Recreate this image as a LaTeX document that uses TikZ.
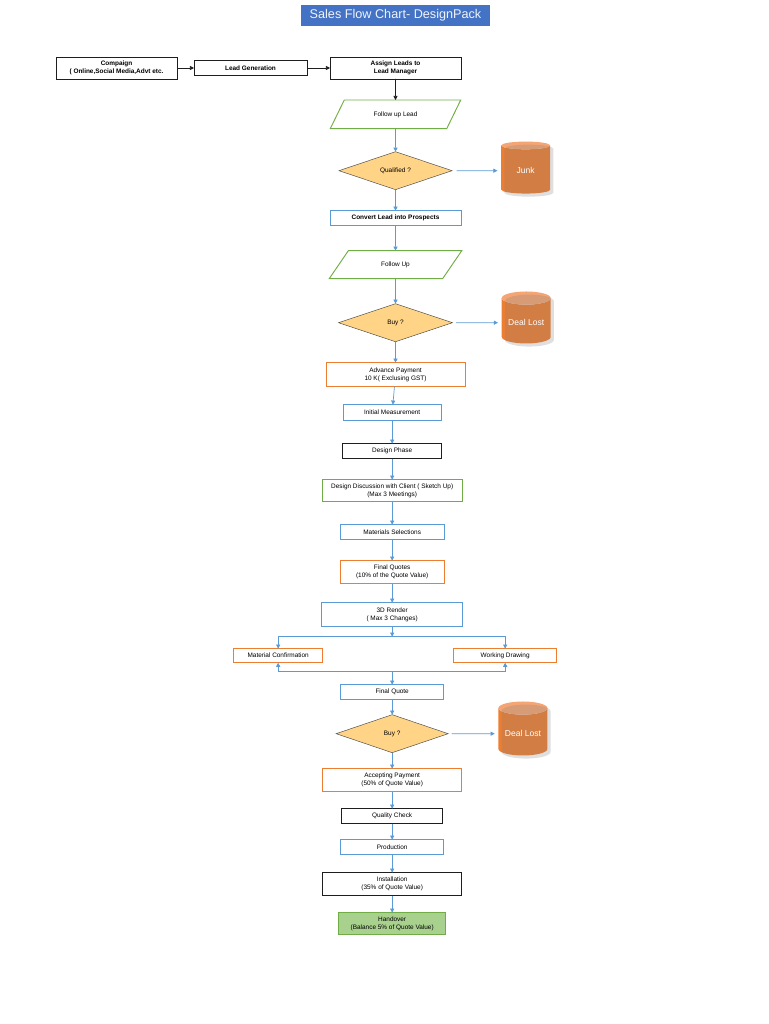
\documentclass[tikz,border=0pt]{standalone}
\usepackage{fontspec}
\setmainfont{Liberation Sans}
\usepackage{tikz}
\usetikzlibrary{shapes.geometric, arrows.meta, positioning, shadows}
\definecolor{charcoal}{RGB}{30, 30, 30}
\definecolor{flowblue}{RGB}{91, 155, 213}
\definecolor{flowgreen}{RGB}{112, 173, 71}
\definecolor{floworange}{RGB}{237, 125, 49}
\definecolor{orangetop}{RGB}{245, 165, 115}
\definecolor{diamondfill}{RGB}{255, 212, 135}
\definecolor{handoverfill}{RGB}{169, 209, 142}
\definecolor{titleblue}{RGB}{68, 114, 196}

\begin{document}
\begin{tikzpicture}[
            box/.style={draw=flowblue, thick, outer sep=0pt, minimum width=3.1cm, minimum height=0.45cm, inner sep=1pt, align=center, font=\fontsize{5.5}{7}\selectfont},
            boldbox/.style={box, draw=charcoal, font=\fontsize{5.5}{7}\selectfont\bfseries},
            lean/.style={trapezium, trapezium left angle=53, trapezium right angle=127, trapezium stretches=true, draw=flowgreen, thick, outer sep=0pt, minimum width=3.93cm, minimum height=0.86cm, inner sep=1pt, font=\fontsize{5.5}{7}\selectfont},
            decision/.style={diamond, draw=charcoal!80, fill=diamondfill, thin, outer sep=0pt, minimum width=3.39cm, minimum height=1.14cm, inner sep=0pt, font=\fontsize{5.5}{7}\selectfont},
            drum/.style={cylinder, shape border rotate=90, aspect=0.3, cylinder uses custom fill, cylinder body fill=floworange, cylinder end fill=orangetop, minimum width=1.47cm, minimum height=1.56cm, text=white, drop shadow={opacity=0.25}, font=\fontsize{7.3}{8}\selectfont},
            heading/.style={fill=titleblue, text=white!92!titleblue, minimum width=5.67cm, minimum height=0.63cm, font=\fontsize{10.8}{12}\selectfont},
            arrow/.style={-{Triangle[length=3.5pt, width=3.5pt]}, line width=0.6pt, flowblue},
            blackarrow/.style={-{Triangle[length=3.5pt, width=3.5pt]}, line width=0.6pt, charcoal}
        ]
            \useasboundingbox (-3.495,2.04) rectangle (19.545,-28.68);

            % top row
            \node[boldbox, minimum width=3.63cm, minimum height=0.66cm] (campaign) {Compaign\\( Online,Social Media,Advt etc.};
            \node[boldbox, minimum width=3.39cm, right=0.51cm of campaign] (leadgen) {Lead Generation};
            \node[boldbox, minimum width=3.93cm, minimum height=0.66cm, right=0.69cm of leadgen] (assign) {Assign Leads to\\Lead Manager};
            \node[heading, above=0.93cm of assign] (title) {Sales Flow Chart- DesignPack};

            % main column
            \node[lean, below=0.63cm of assign] (followlead) {Follow up Lead};
            \node[decision, below=0.69cm of followlead] (qualified) {Qualified ?};
            \node[drum, right=1.47cm of qualified] (junk) {Junk};
            \node[box, minimum width=3.93cm, font=\fontsize{5.5}{7}\selectfont\bfseries, below=0.63cm of qualified] (convert) {Convert Lead into Prospects};
            \node[lean, minimum width=3.99cm, minimum height=0.84cm, below=0.75cm of convert] (followup) {Follow Up};
            \node[decision, minimum width=3.42cm, below=0.75cm of followup] (buy) {Buy ?};
            \node[drum, right=1.47cm of buy] (lost) {Deal Lost};
            \node[box, draw=floworange, minimum width=4.17cm, minimum height=0.72cm, below=0.63cm of buy] (advance) {Advance Payment\\10 K( Exclusing GST)};
            \node[box, minimum width=2.94cm, minimum height=0.48cm, below=0.54cm of advance, xshift=-0.1cm] (measure) {Initial Measurement};
            \node[box, draw=charcoal, minimum width=2.97cm, below=0.69cm of measure] (design) {Design Phase};
            \node[box, draw=flowgreen, minimum width=4.2cm, minimum height=0.66cm, below=0.63cm of design] (discussion) {Design Discussion with Client ( Sketch Up)\\(Max 3 Meetings)};
            \node[box, minimum width=3.12cm, below=0.69cm of discussion] (materials) {Materials Selections};
            \node[box, draw=floworange, minimum width=3.12cm, minimum height=0.69cm, below=0.63cm of materials] (quotes) {Final Quotes\\(10\% of the Quote Value)};
            \node[box, minimum width=4.23cm, minimum height=0.72cm, below=0.57cm of quotes] (render) {3D Render\\( Max 3 Changes)};

            % split and merge
            \coordinate[below=0.3cm of render] (split);
            \node[box, draw=floworange, minimum width=2.67cm, minimum height=0.42cm, below=0.36cm of split, xshift=-3.42cm] (matconf) {Material Confirmation};
            \node[box, draw=floworange, minimum width=3.09cm, minimum height=0.42cm, below=0.36cm of split, xshift=3.39cm] (drawing) {Working Drawing};
            \coordinate (merge) at ([yshift=-1.05cm]split);

            \node[box, minimum width=3.09cm, below=0.39cm of merge] (finalquote) {Final Quote};
            \node[decision, minimum width=3.36cm, below=0.45cm of finalquote] (buyagain) {Buy ?};
            \node[drum, minimum height=1.62cm, right=1.5cm of buyagain] (lostagain) {Deal Lost};
            \node[box, draw=floworange, minimum width=4.17cm, minimum height=0.69cm, below=0.48cm of buyagain] (accepting) {Accepting Payment\\(50\% of Quote Value)};
            \node[box, draw=charcoal, minimum width=3.03cm, below=0.51cm of accepting] (quality) {Quality Check};
            \node[box, minimum width=3.09cm, below=0.48cm of quality] (production) {Production};
            \node[box, draw=charcoal, minimum width=4.17cm, minimum height=0.69cm, below=0.54cm of production] (install) {Installation\\(35\% of Quote Value)};
            \node[box, draw=flowgreen, fill=handoverfill, minimum width=3.21cm, minimum height=0.66cm, below=0.51cm of install] (handover) {Handover\\(Balance 5\% of Quote Value)};

            \draw[blackarrow] (campaign) -- (leadgen);
            \draw[blackarrow] (leadgen) -- (assign);
            \draw[blackarrow] (assign) -- (followlead);
            \draw[arrow] (followlead) -- (qualified);
            \draw[arrow, shorten <=4pt, shorten >=3pt] (qualified) -- (junk);
            \draw[arrow] (qualified) -- (convert);
            \draw[arrow] (convert) -- (followup);
            \draw[arrow] (followup) -- (buy);
            \draw[arrow, shorten <=3pt, shorten >=3pt] (buy) -- (lost);
            \draw[arrow] (buy) -- (advance);
            \draw[arrow] (advance) -- (measure);
            \draw[arrow] (measure) -- (design);
            \draw[arrow] (design) -- (discussion);
            \draw[arrow] (discussion) -- (materials);
            \draw[arrow] (materials) -- (quotes);
            \draw[arrow] (quotes) -- (render);
            \draw[arrow] (render) -- (split);
            \draw[arrow] (split) -| (matconf);
            \draw[arrow] (split) -| (drawing);
            \draw[arrow] (merge) -| (matconf);
            \draw[arrow] (merge) -| (drawing);
            \draw[arrow] (merge) -- (finalquote);
            \draw[arrow] (finalquote) -- (buyagain);
            \draw[arrow, shorten <=3pt, shorten >=3pt] (buyagain) -- (lostagain);
            \draw[arrow] (buyagain) -- (accepting);
            \draw[arrow] (accepting) -- (quality);
            \draw[arrow] (quality) -- (production);
            \draw[arrow] (production) -- (install);
            \draw[arrow] (install) -- (handover);
        \end{tikzpicture}
\end{document}
